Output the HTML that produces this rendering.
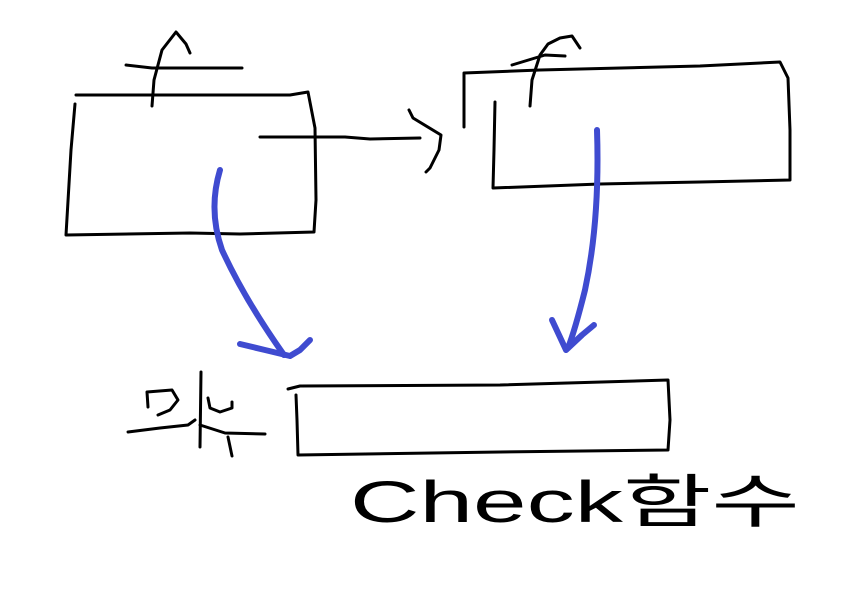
<!DOCTYPE html>
<html><head><meta charset="utf-8"><style>html,body{margin:0;padding:0;background:#fff}svg{display:block}</style></head>
<body>
<svg width="859" height="594" viewBox="0 0 859 594" xmlns="http://www.w3.org/2000/svg">
<g fill="none" stroke="#000" stroke-width="3" stroke-linecap="round" stroke-linejoin="round">
<!-- box 1 -->
<path d="M76,95 L290,95 L308,92 L315,128 L316,200 L314,232 L240,234 L190,233 L66,235 L71,150 L75,104"/>
<path d="M126,65 L152,68 L242,68"/>
<path d="M152,106 L154,80 L162,50 L176,32 L186,44 L190,53"/>
<path d="M260,137 L345,137 L370,139 L420,138"/>
<path d="M409,110 L413,118 L441,135 L439,150 L430,168 L426,172"/>
<!-- box 2 -->
<path d="M464,127 L464,73 L540,70 L700,66 L780,62 L788,78 L790,130 L790,180 L700,182 L600,184 L493,188 L494,150 L495,102"/>
<path d="M512,65 L545,55 L565,56"/>
<path d="M530,106 L532,80 L540,55 L548,44 L560,38 L572,36 L580,48"/>
<!-- box 3 -->
<path d="M288,389 L300,386 L500,385 L668,380 L670,420 L668,450 L500,452 L298,455 L297,420 L296,395"/>
<!-- left label strokes -->
<path d="M201,372 L200,447"/>
<path d="M128,432 L160,428 L188,425 L195,420"/>
<path d="M200,425 L225,433 L265,434"/>
<path d="M228,437 L232,456"/>
<path d="M148,407 L147,392 L172,390 L178,400 L170,410 L158,415"/>
<path d="M208,398 L210,408 L220,412 L232,408 L232,402"/>
</g>
<g fill="none" stroke="#3f4bd0" stroke-width="6" stroke-linecap="round" stroke-linejoin="round">
<path d="M220,170 Q208,210 222,250 Q245,300 284,355"/>
<path d="M240,344 L265,350 L290,356 L300,350 L310,340"/>
<path d="M597,130 Q600,220 585,290 Q575,330 568,348"/>
<path d="M552,320 L566,350 L582,335 L594,325"/>
</g>
<text x="350" y="522" font-family="Liberation Sans, Noto Sans CJK KR, sans-serif" font-size="58" fill="#000" textLength="450" lengthAdjust="spacingAndGlyphs">Check함수</text>
</svg>
</body></html>
